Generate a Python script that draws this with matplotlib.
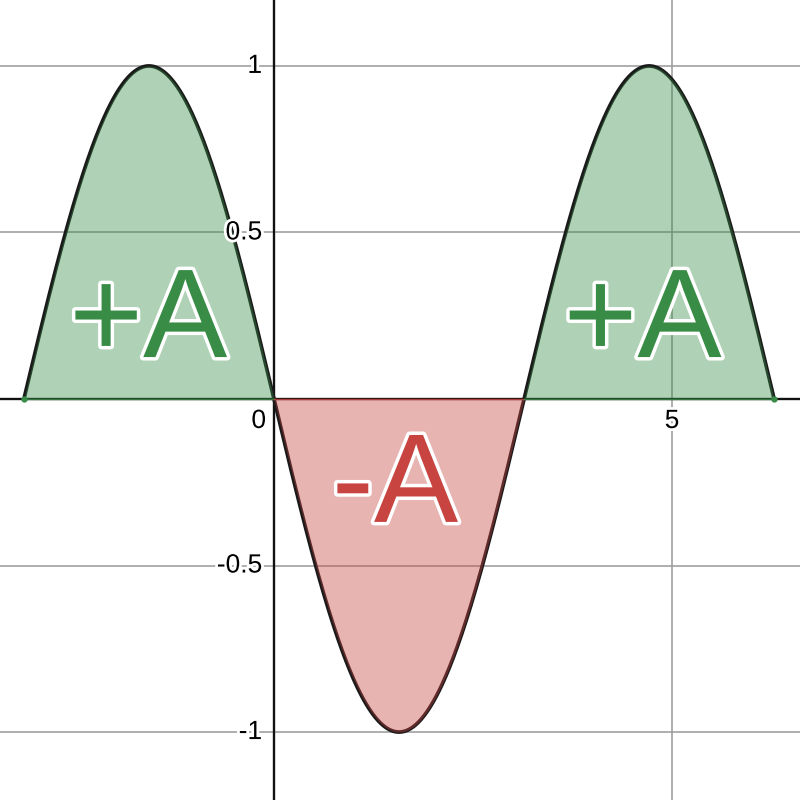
import numpy as np
import matplotlib
matplotlib.use("Agg")
import matplotlib.pyplot as plt
import matplotlib.patheffects as pe

plt.rcParams['font.family'] = ['Liberation Sans', 'DejaVu Sans']

# graph of y = -sin(x), shaded over three half periods
region_starts = [-np.pi, 0.0, np.pi]
region_ends = [0.0, np.pi, 2 * np.pi]
region_labels = ["+A", "-A", "+A"]
region_label_x = [-1.58, 1.52, 4.63]
region_label_y = [0.225, -0.27, 0.225]

x_ticks = [0, 5]
x_tick_labels = ["0", "5"]
y_ticks = [-1, -0.5, 0.5, 1]
y_tick_labels = ["-1", "-0.5", "0.5", "1"]

GREEN = "#388c46"
RED = "#c74440"

fig = plt.figure(figsize=(8, 8), dpi=100)
ax = fig.add_axes([0, 0, 1, 1])
ax.set_xlim(-3.442, 6.608)
ax.set_ylim(-1.204, 1.198)
ax.axis("off")

# grid
for gx in [-5, 5]:
    ax.axvline(gx, color="#999999", lw=1.1, zorder=0)
for gy in y_ticks:
    ax.axhline(gy, color="#999999", lw=1.1, zorder=0)

# axes
ax.axhline(0, color="#111111", lw=1.7, zorder=1)
ax.axvline(0, color="#111111", lw=1.7, zorder=1)

# curve
xs = np.linspace(region_starts[0], region_ends[-1], 1000)
ax.plot(xs, -np.sin(xs), color="#1a1a1a", lw=2.7, zorder=3, solid_capstyle="round")

# shaded regions
for a, b in zip(region_starts, region_ends):
    xr = np.linspace(a, b, 300)
    yr = -np.sin(xr)
    col = GREEN if yr.mean() > 0 else RED
    ax.fill_between(xr, yr, 0, color=col, alpha=0.4, lw=0, zorder=4)
    ax.plot([a, b], [0, 0], color=col, lw=1.0, alpha=0.8, zorder=4)

ax.plot([region_starts[0], region_ends[-1]], [0, 0], "o", color=GREEN, ms=3.5, zorder=5)

outline = [pe.withStroke(linewidth=4, foreground="white")]

# tick labels
for tx, tl in zip(x_ticks, x_tick_labels):
    if tx == 0:
        ax.text(tx - 0.1, -0.03, tl, ha="right", va="top", fontsize=19,
                color="black", path_effects=outline, zorder=6)
    else:
        ax.text(tx, -0.03, tl, ha="center", va="top", fontsize=19,
                color="black", path_effects=outline, zorder=6)
for ty, tl in zip(y_ticks, y_tick_labels):
    ax.text(-0.15, ty, tl, ha="right", va="center", fontsize=19,
            color="black", path_effects=outline, zorder=6)

# area labels
for lx, ly, lab in zip(region_label_x, region_label_y, region_labels):
    col = GREEN if lab.startswith("+") else RED
    ax.text(lx, ly, lab, ha="center", va="center", fontsize=91, color=col,
            path_effects=[pe.withStroke(linewidth=5, foreground="white")], zorder=7)

fig.savefig("out.png", dpi=100)
